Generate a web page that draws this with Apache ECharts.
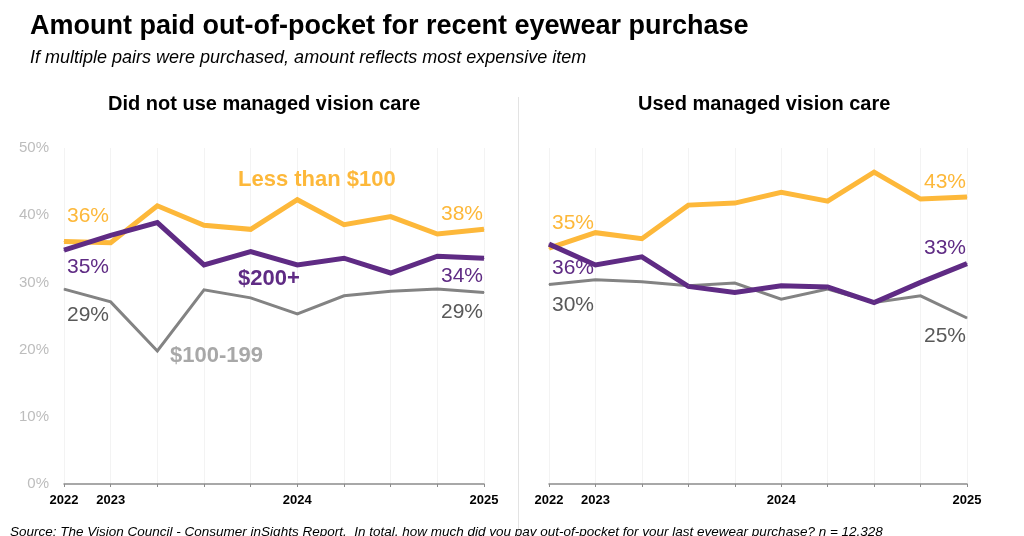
<!DOCTYPE html>
<html>
<head>
<meta charset="utf-8">
<script src="https://cdn.jsdelivr.net/npm/echarts@6/dist/echarts.min.js"></script>
<style>
  html, body { margin: 0; padding: 0; background: #fff; }
  #chart { width: 1024px; height: 536px; }
</style>
</head>
<body>
<div id="chart"></div>
<script>
// x categories (one point per wave, only some labelled)
const categories = ['2022', '2023', '', '', '', '2024', '', '', '', '2025'];

// Did not use managed vision care
const leftLess = [36.1, 35.9, 41.4, 38.5, 37.9, 42.3, 38.6, 39.8, 37.2, 37.9];
const leftMid = [29.0, 27.1, 19.8, 28.9, 27.7, 25.3, 28.0, 28.7, 29.0, 28.5];
const leftHigh = [34.8, 37.0, 38.9, 32.6, 34.6, 32.6, 33.6, 31.4, 33.9, 33.6];

// Used managed vision care
const rightLess = [35.1, 37.4, 36.5, 41.5, 41.8, 43.4, 42.1, 46.4, 42.4, 42.7];
const rightMid = [29.7, 30.4, 30.1, 29.5, 29.9, 27.5, 29.0, 27.0, 28.0, 24.7];
const rightHigh = [35.7, 32.6, 33.8, 29.4, 28.5, 29.5, 29.3, 27.0, 30.0, 32.8];

// first / last point labels as printed on the chart
const leftLessLabels = ['36%', '38%'];
const leftMidLabels = ['29%', '29%'];
const leftHighLabels = ['35%', '34%'];
const rightLessLabels = ['35%', '43%'];
const rightMidLabels = ['30%', '25%'];
const rightHighLabels = ['36%', '33%'];

const YELLOW = '#FDB83A';
const PURPLE = '#5F2B84';
const GRAY = '#838383';
const FONT = 'Liberation Sans, Arial, sans-serif';

const myChart = echarts.init(document.getElementById('chart'));

// attach start/end labels to first and last point
function withLabels(values, texts, color, startPos, endPos) {
  const last = values.length - 1;
  return values.map((v, i) => {
    if (i === 0) {
      return {
        value: v,
        label: {
          show: true, formatter: texts[0], color: color, fontSize: 21, fontFamily: FONT,
          position: startPos[0], distance: startPos[1], align: 'left', offset: [3, 0]
        }
      };
    }
    if (i === last) {
      return {
        value: v,
        label: {
          show: true, formatter: texts[1], color: color, fontSize: 21, fontFamily: FONT,
          position: endPos[0], distance: endPos[1], align: 'right', offset: [-1, 0]
        }
      };
    }
    return v;
  });
}

function line(name, gridIdx, data, color, width) {
  return {
    name: name,
    type: 'line',
    xAxisIndex: gridIdx,
    yAxisIndex: gridIdx,
    data: data,
    symbol: 'circle',
    symbolSize: 1,
    showSymbol: true,
    itemStyle: { color: color },
    lineStyle: { color: color, width: width, join: 'miter' },
    emphasis: { disabled: true },
    animation: false
  };
}

function xAxis(gridIdx) {
  return {
    type: 'category',
    gridIndex: gridIdx,
    data: categories,
    boundaryGap: false,
    axisLine: { lineStyle: { color: '#8c8c8c', width: 1.5 } },
    axisTick: { show: true, length: 3, interval: 0, lineStyle: { color: '#8c8c8c' } },
    axisLabel: { interval: 0, color: '#000', fontWeight: 'bold', fontSize: 13, fontFamily: FONT, margin: 10 },
    splitLine: { show: true, interval: 0, lineStyle: { color: '#f3f3f3' } }
  };
}

function yAxis(gridIdx, showLabels) {
  return {
    type: 'value',
    gridIndex: gridIdx,
    min: 0,
    max: 50,
    interval: 10,
    axisLine: { show: false },
    axisTick: { show: false },
    splitLine: { show: false },
    axisLabel: {
      show: showLabels, formatter: '{value}%', color: '#bdbdbd', fontSize: 15, fontFamily: FONT, margin: 15
    }
  };
}

const option = {
  backgroundColor: '#fff',
  textStyle: { fontFamily: FONT },
  grid: [
    { left: 64, right: 540, top: 148, bottom: 52 },
    { left: 549, right: 57, top: 148, bottom: 52 }
  ],
  xAxis: [xAxis(0), xAxis(1)],
  yAxis: [yAxis(0, true), yAxis(1, false)],
  series: [
    line('$100-199', 0, withLabels(leftMid, leftMidLabels, '#595959', ['bottom', 15], ['bottom', 9]), GRAY, 3),
    line('Less than $100', 0, withLabels(leftLess, leftLessLabels, YELLOW, ['top', 14], ['top', 4]), YELLOW, 5),
    line('$200+', 0, withLabels(leftHigh, leftHighLabels, PURPLE, ['bottom', 6], ['bottom', 7]), PURPLE, 5),
    line('$100-199', 1, withLabels(rightMid, rightMidLabels, '#595959', ['bottom', 10], ['bottom', 7]), GRAY, 3),
    line('Less than $100', 1, withLabels(rightLess, rightLessLabels, YELLOW, ['top', 14], ['top', 4]), YELLOW, 5),
    line('$200+', 1, withLabels(rightHigh, rightHighLabels, PURPLE, ['bottom', 13], ['top', 4]), PURPLE, 5)
  ],
  graphic: [
    { type: 'text', z: 100, left: 30, top: 13, style: { text: 'Amount paid out-of-pocket for recent eyewear purchase', font: 'bold 27px ' + FONT, fill: '#000' } },
    { type: 'text', z: 100, left: 30, top: 49, style: { text: 'If multiple pairs were purchased, amount reflects most expensive item', font: 'italic 18px ' + FONT, fill: '#000' } },
    { type: 'text', z: 100, left: 108, top: 94, style: { text: 'Did not use managed vision care', font: 'bold 20px ' + FONT, fill: '#000' } },
    { type: 'text', z: 100, left: 638, top: 94, style: { text: 'Used managed vision care', font: 'bold 20px ' + FONT, fill: '#000' } },
    { type: 'line', z: 100, shape: { x1: 518.5, y1: 97, x2: 518.5, y2: 536 }, style: { stroke: '#e3e3e3', lineWidth: 1 } },
    { type: 'text', z: 100, left: 238, top: 169, style: { text: 'Less than $100', font: 'bold 22px ' + FONT, fill: YELLOW } },
    { type: 'text', z: 100, left: 238, top: 268, style: { text: '$200+', font: 'bold 22px ' + FONT, fill: PURPLE } },
    { type: 'text', z: 100, left: 170, top: 345, style: { text: '$100-199', font: 'bold 22px ' + FONT, fill: '#a8a8a8' } },
    { type: 'text', z: 100, left: 10, top: 525, style: { text: 'Source: The Vision Council - Consumer inSights Report.  In total, how much did you pay out-of-pocket for your last eyewear purchase? n = 12,328', font: 'italic 13.5px ' + FONT, fill: '#000' } }
  ]
};

myChart.setOption(option);
</script>
</body>
</html>
